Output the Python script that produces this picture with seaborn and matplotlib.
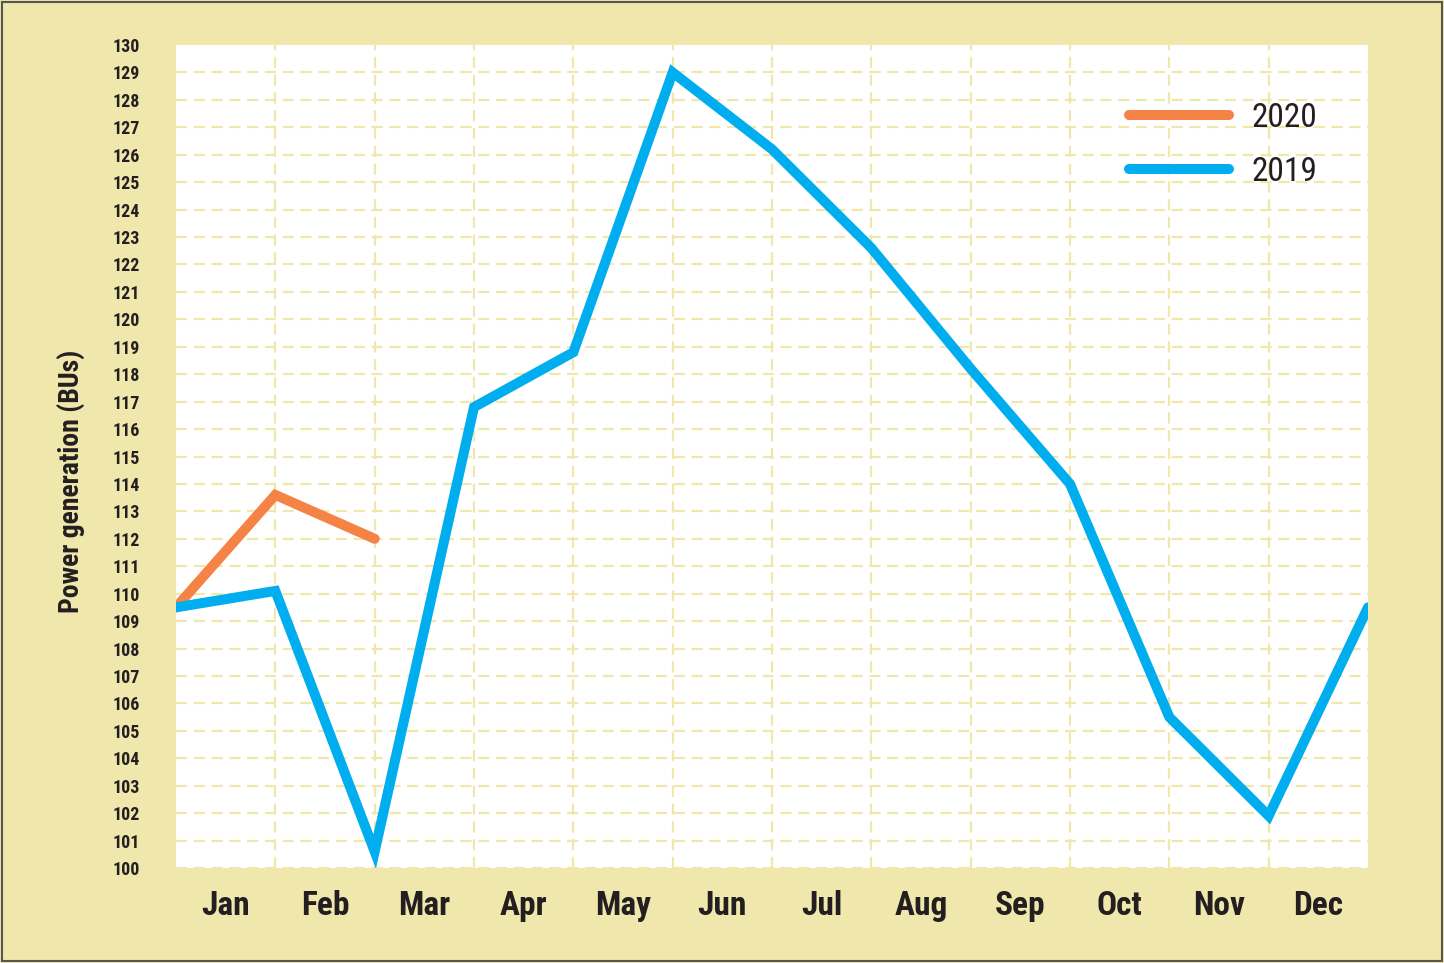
import pandas as pd
import seaborn as sns
from matplotlib import pyplot as plt
from matplotlib import font_manager
from matplotlib.patches import Rectangle

# monthly power generation, points sit on the month boundaries
months = ["Jan", "Feb", "Mar", "Apr", "May", "Jun",
          "Jul", "Aug", "Sep", "Oct", "Nov", "Dec"]
gen_2019 = [109.5, 110.1, 100.6, 116.8, 118.8, 129.0, 126.2,
            122.6, 118.2, 114.0, 105.5, 101.9, 109.5]
gen_2020 = [109.5, 113.6, 112.0]
y_ticks = list(range(100, 131))

# long form table for seaborn
df = pd.concat([
    pd.DataFrame({"step": range(len(gen_2020)), "value": gen_2020, "year": "2020"}),
    pd.DataFrame({"step": range(len(gen_2019)), "value": gen_2019, "year": "2019"}),
])

bg = "#F0E7AC"
ink = "#231F20"
sns.set_style("white")

# the original uses a narrow sans (Arial Narrow look), take the first one with a bold face
fonts = font_manager.fontManager.ttflist
wanted = ["Liberation Sans Narrow", "Arial Narrow", "Roboto Condensed", "Archivo Narrow",
          "PT Sans Narrow", "IBM Plex Sans Condensed", "Fira Sans Condensed"]
family = "Liberation Sans"
for name in wanted:
    has_bold = any(f.name == name and f.weight in (700, "bold") and f.style == "normal" for f in fonts)
    if has_bold:
        family = name
        break
plt.rcParams["font.family"] = [family, "DejaVu Sans"]

fig, ax = plt.subplots(figsize=(14.44, 9.63), dpi=100)
fig.patch.set_facecolor(bg)
ax.set_facecolor("white")
fig.subplots_adjust(left=176 / 1444, right=1368 / 1444, top=1 - 45 / 963, bottom=1 - 868 / 963)

sns.lineplot(data=df, x="step", y="value", hue="year",
             palette={"2020": "#F58345", "2019": "#00AEEF"},
             hue_order=["2020", "2019"],
             linewidth=7.2, ax=ax, zorder=3)
for ln in ax.get_lines():
    ln.set_solid_capstyle("round")
    ln.set_solid_joinstyle("miter")

ax.set_xlim(0, 12)
ax.set_ylim(100, 130)
ax.set_yticks(y_ticks)
ax.set_yticklabels([str(t) for t in y_ticks], fontsize=13, fontweight="bold", color=ink)
ax.set_xticks([i + 0.5 for i in range(12)])
ax.set_xticklabels(months, fontsize=24, fontweight="bold", color=ink)
ax.tick_params(axis="y", length=0, pad=26)
ax.tick_params(axis="x", length=0, pad=16)

# dashed grid on month boundaries and every unit
for v in range(1, 12):
    ax.axvline(v, color=bg, lw=1.6, ls=(0, (5, 3)), zorder=1)
for v in range(100, 130):
    ax.axhline(v, color=bg, lw=1.6, ls=(0, (5, 3)), zorder=1)

for s in ax.spines.values():
    s.set_visible(False)

ax.set_xlabel("")
ax.set_ylabel("Power generation (BUs)", fontsize=20, fontweight="bold", color=ink)
ax.yaxis.set_label_coords(-0.076, 0.47)

leg = ax.legend(loc="upper right", bbox_to_anchor=(0.983, 0.967), frameon=False,
                fontsize=24, handlelength=3.0, handletextpad=0.7, labelspacing=0.65)
for h in leg.get_lines():
    h.set_linewidth(7.2)
    h.set_solid_capstyle("round")
for t in leg.get_texts():
    t.set_color(ink)

# thin frame round the whole picture
fig.patches.append(Rectangle((0.0015, 0.002), 0.997, 0.996, transform=fig.transFigure,
                             fill=False, edgecolor="#555555", lw=1.5))

fig.savefig("out.png", dpi=100, facecolor=bg)
